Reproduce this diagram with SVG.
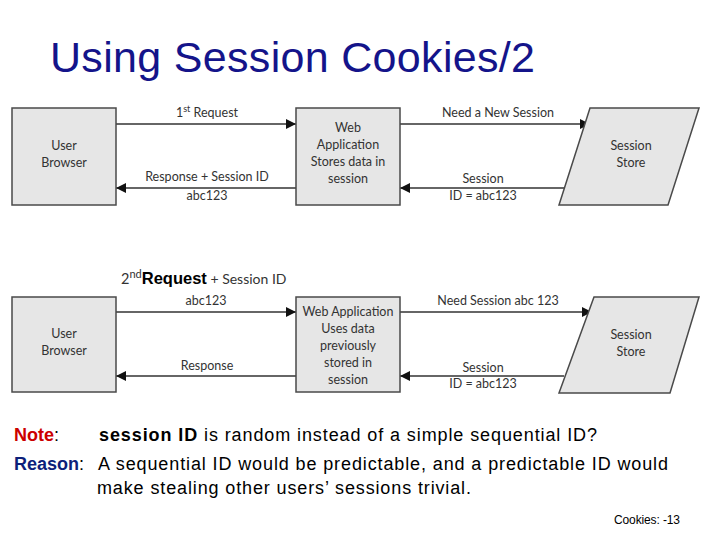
<svg xmlns="http://www.w3.org/2000/svg" width="720" height="540" viewBox="0 0 720 540">
<defs>
<style>
.box{fill:#e6e6e6;stroke:#4a4a4a;stroke-width:1.5}
.ln{stroke:#333;stroke-width:1.5;fill:none}
.t{font-family:Lato,"Noto Sans",sans-serif;font-size:12.5px;fill:#333;text-anchor:middle}
.n{font-family:"Liberation Sans",Arial,sans-serif;font-size:18px;fill:#000}
</style>
<marker id="ah" viewBox="0 0 10 10" refX="10" refY="5" markerWidth="10" markerHeight="10" markerUnits="userSpaceOnUse" orient="auto">
<path d="M0,0 L10,5 L0,10 z" fill="#111"/>
</marker>
</defs>
<rect width="720" height="540" fill="#fff"/>
<text x="50" y="72" font-family="Liberation Sans,Arial,sans-serif" font-size="43" fill="#14148a" textLength="485">Using Session Cookies/2</text>

<g id="connectors">
<line class="ln" x1="116" y1="124" x2="296" y2="124" marker-end="url(#ah)"/>
<line class="ln" x1="296" y1="188" x2="116" y2="188" marker-end="url(#ah)"/>
<line class="ln" x1="400" y1="124" x2="590" y2="124" marker-end="url(#ah)"/>
<line class="ln" x1="564" y1="188" x2="400" y2="188" marker-end="url(#ah)"/>
<line class="ln" x1="116" y1="312" x2="296" y2="312" marker-end="url(#ah)"/>
<line class="ln" x1="296" y1="376" x2="116" y2="376" marker-end="url(#ah)"/>
<line class="ln" x1="400" y1="312" x2="592" y2="312" marker-end="url(#ah)"/>
<line class="ln" x1="564" y1="376" x2="400" y2="376" marker-end="url(#ah)"/>
<text class="t" x="207" y="117">1<tspan font-size="9" dy="-5">st</tspan><tspan dy="5"> Request</tspan></text>
<text class="t" x="207" y="181">Response + Session ID</text>
<text class="t" x="207" y="200">abc123</text>
<text class="t" x="498" y="117">Need a New Session</text>
<text class="t" x="483" y="183">Session</text>
<text class="t" x="483" y="200">ID = abc123</text>
<text x="121" y="284" font-family="Lato,sans-serif" font-size="14.5" fill="#333">2<tspan font-size="11" dy="-6">nd</tspan><tspan dy="6" font-family="Liberation Sans,Arial,sans-serif" font-size="16.5" font-weight="bold" fill="#000">Request</tspan><tspan font-size="14"> + Session ID</tspan></text>
<text class="t" x="206" y="305">abc123</text>
<text class="t" x="207" y="370">Response</text>
<text class="t" x="498" y="305">Need Session abc 123</text>
<text class="t" x="483" y="372">Session</text>
<text class="t" x="483" y="388">ID = abc123</text>
</g>

<g id="browser1">
<rect class="box" x="12" y="108" width="104" height="97"/>
<text class="t" x="64" y="150">User</text>
<text class="t" x="64" y="167">Browser</text>
</g>
<g id="webapp1">
<rect class="box" x="296" y="108" width="104" height="97"/>
<text class="t" x="348" y="132">Web</text>
<text class="t" x="348" y="149">Application</text>
<text class="t" x="348" y="166">Stores data in</text>
<text class="t" x="348" y="183">session</text>
</g>
<g id="store1">
<polygon class="box" points="590,108 699,108 668,205 559,205"/>
<text class="t" x="631" y="150">Session</text>
<text class="t" x="631" y="167">Store</text>
</g>

<g id="browser2">
<rect class="box" x="12" y="297" width="104" height="95"/>
<text class="t" x="64" y="338">User</text>
<text class="t" x="64" y="355">Browser</text>
</g>
<g id="webapp2">
<rect class="box" x="296" y="297" width="104" height="95"/>
<text class="t" x="348" y="316">Web Application</text>
<text class="t" x="348" y="333">Uses data</text>
<text class="t" x="348" y="350">previously</text>
<text class="t" x="348" y="367">stored in</text>
<text class="t" x="348" y="384">session</text>
</g>
<g id="store2">
<polygon class="box" points="594,297 699,297 670,393 559,393"/>
<text class="t" x="631" y="339">Session</text>
<text class="t" x="631" y="356">Store</text>
</g>

<g id="notes">
<text class="n" x="14" y="441"><tspan fill="#cc0000" font-weight="bold">Note</tspan>:</text>
<text class="n" x="99" y="441" textLength="498"><tspan font-weight="bold">session ID</tspan> is random instead of a simple sequential ID?</text>
<text class="n" x="14" y="470"><tspan fill="#0d1f7a" font-weight="bold">Reason</tspan>:</text>
<text class="n" x="98" y="470" textLength="570">A sequential ID would be predictable, and a predictable ID would</text>
<text class="n" x="97" y="494" textLength="374">make stealing other users’ sessions trivial.</text>
<text x="614" y="524" font-family="Liberation Sans,Arial,sans-serif" font-size="12" fill="#000" textLength="66">Cookies: -13</text>
</g>
</svg>
